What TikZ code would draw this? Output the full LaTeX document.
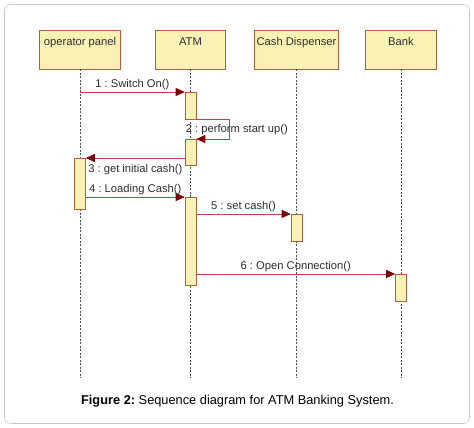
\documentclass[tikz,border=0pt]{standalone}
\usepackage{fontspec}
\setmainfont{Liberation Sans}
\usetikzlibrary{arrows.meta}
\frenchspacing
\definecolor{umlfill}{HTML}{FAF1B4}
\definecolor{umlborder}{HTML}{B0603C}
\definecolor{umlline}{HTML}{B04848}
\definecolor{umltip}{HTML}{7A0000}
\definecolor{framegray}{HTML}{C8C8C8}
\begin{document}
\begin{tikzpicture}[x=1pt,y=-1pt,semithick,
	every node/.style={font=\fontsize{11.2}{13}\selectfont,text=black!82},
	object/.style={draw=umlborder,fill=umlfill,text height=13pt,text depth=20pt,inner ysep=3pt,inner xsep=0pt},
	act/.style={draw=umlborder,fill=umlfill,minimum width=11pt,anchor=north,inner sep=0pt},
	life/.style={thin,dash pattern=on 2pt off 1.5pt,black!70},
	msg/.style={-{Triangle[length=9pt,width=8pt,color=umltip]},draw=umlline,line width=0.8pt},
	lbl/.style={inner sep=1.5pt}]

		\useasboundingbox (0,0) rectangle (474,428);
		\draw[framegray,fill=white,rounded corners=6pt] (4.5,4.5) rectangle (469.5,423.5);

		\node(op)   [object,minimum width=81pt] at (80,49.5)  {operator panel};
		\node(atm)  [object,minimum width=70pt] at (190.5,49.5) {ATM};
		\node(cd)   [object,minimum width=84pt] at (296.5,49.5) {Cash Dispenser};
		\node(bank) [object,minimum width=71pt] at (401,49.5) {Bank};

		\foreach \o in {op,atm,cd,bank}
			\draw[life] (\o.south) -- (\o.south |- 0,378);

		\node(a_1) [act,minimum height=27pt] at (atm.south |- 0,92)  {};
		\node(a_2) [act,minimum height=26pt] at (atm.south |- 0,139) {};
		\node(o_1) [act,minimum height=51pt] at (op.south |- 0,158)  {};
		\node(a_3) [act,minimum height=88pt] at (atm.south |- 0,197) {};
		\node(c_1) [act,minimum height=27pt] at (cd.south |- 0,214)  {};
		\node(b_1) [act,minimum height=27pt] at (bank.south |- 0,274) {};

		\draw[msg] (a_1.north west -| op) -- node[lbl,above] {1 : Switch On()} (a_1.north west);
		\draw[msg] (a_1.south east) -- ++(33,0) |- (a_2.north east);
		\node(l_2) [lbl,anchor=west] at (184,129.5) {2 : perform start up()};
		\draw[msg] (o_1.north east -| a_2.west) -- node[lbl,below=4pt] {3 : get initial cash()} (o_1.north east);
		\draw[msg] (a_3.north west -| o_1.east) -- node[lbl,above] {4 : Loading Cash()} (a_3.north west);
		\draw[msg] (c_1.north west -| a_3.east) -- node[lbl,above] {5 : set cash()} (c_1.north west);
		\draw[msg] (b_1.north west -| a_3.east) -- node[lbl,above] {6 : Open Connection()} (b_1.north west);

		\node(cap) [font=\fontsize{12.8}{15}\selectfont,text=black] at (237.5,401) {\textbf{Figure 2:} Sequence diagram for ATM Banking System.};
	\end{tikzpicture}
\end{document}
